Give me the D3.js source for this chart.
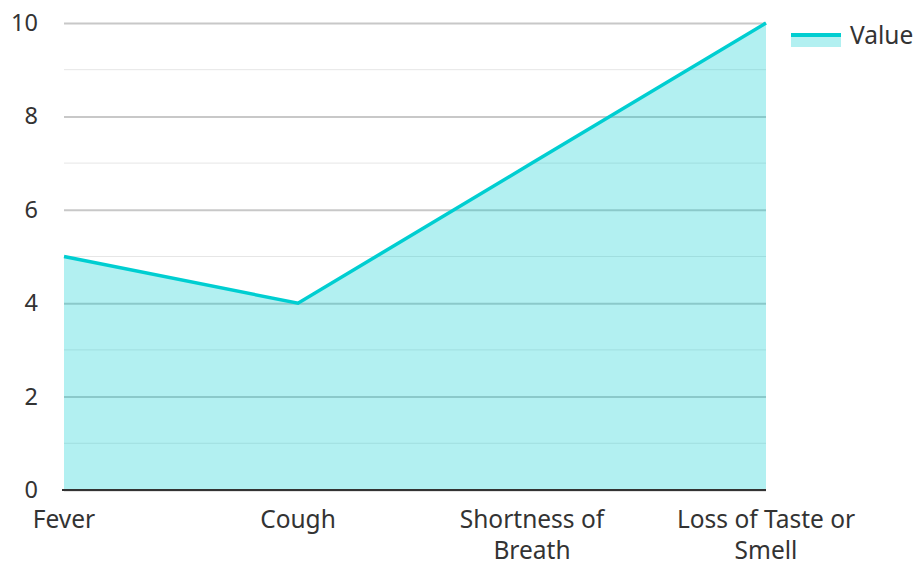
<!DOCTYPE html>
<html>
<head>
<meta charset="utf-8">
<script src="https://cdn.jsdelivr.net/npm/d3@7"></script>
<style>
  body { margin: 0; background: #fff; }
  text { font-family: "Noto Sans", sans-serif; fill: #333; }
</style>
</head>
<body>
<div id="chart-area"></div>
<script>
const categories = ["Fever", "Cough", "Shortness of Breath", "Loss of Taste or Smell"];
const values = [5, 4, 7, 10];
const seriesName = "Value";
const yTicks = [0, 2, 4, 6, 8, 10];
const yMinorTicks = [1, 3, 5, 7, 9];

const width = 916, height = 562;
const margin = { top: 23, right: 150, bottom: 72, left: 64 };
const lineColor = "#00ced1";

const svg = d3.select("#chart-area")
    .append("svg")
    .attr("width", width)
    .attr("height", height);

const x = d3.scalePoint()
    .domain(categories)
    .range([margin.left, width - margin.right]);

const y = d3.scaleLinear()
    .domain([0, 10])
    .range([height - margin.bottom, margin.top]);

// minor grid
svg.append("g")
    .selectAll("line")
    .data(yMinorTicks)
    .enter().append("line")
    .attr("x1", margin.left)
    .attr("x2", width - margin.right)
    .attr("y1", d => y(d))
    .attr("y2", d => y(d))
    .attr("stroke", "#e6e6e6")
    .attr("stroke-width", 1);

// major grid + labels
const yAxis = svg.append("g")
    .attr("transform", "translate(" + margin.left + ",0)")
    .call(d3.axisLeft(y).tickValues(yTicks).tickSize(-(width - margin.right - margin.left)).tickPadding(26));
yAxis.select(".domain").remove();
yAxis.selectAll(".tick line").attr("stroke", "#c8c8c8").attr("stroke-width", 2);
yAxis.selectAll(".tick text")
    .attr("font-size", 23.5)
    .attr("fill", "#444")
    .style("font-family", "'Noto Sans', sans-serif");

// area
const area = d3.area()
    .x((d, i) => x(categories[i]))
    .y0(y(0))
    .y1(d => y(d));

svg.append("path")
    .datum(values)
    .attr("d", area)
    .attr("fill", lineColor)
    .attr("fill-opacity", 0.3);

const line = d3.line()
    .x((d, i) => x(categories[i]))
    .y(d => y(d));

svg.append("path")
    .datum(values)
    .attr("d", line)
    .attr("fill", "none")
    .attr("stroke", lineColor)
    .attr("stroke-width", 3.5);

// x axis line
svg.append("line")
    .attr("x1", margin.left - 2)
    .attr("x2", width - margin.right)
    .attr("y1", y(0))
    .attr("y2", y(0))
    .attr("stroke", "#333")
    .attr("stroke-width", 2);

// x labels (wrapped)
const wrapWidth = 185;
const xLabels = svg.append("g");
categories.forEach(function (c) {
    const t = xLabels.append("text")
        .attr("x", x(c))
        .attr("y", y(0) + 38)
        .attr("text-anchor", "middle")
        .attr("font-size", 24.5)
        .attr("fill", "#333");
    const words = c.split(" ");
    let lineWords = [];
    let tspan = t.append("tspan").attr("x", x(c)).attr("dy", 0);
    words.forEach(function (w) {
        lineWords.push(w);
        tspan.text(lineWords.join(" "));
        if (tspan.node().getComputedTextLength() > wrapWidth && lineWords.length > 1) {
            lineWords.pop();
            tspan.text(lineWords.join(" "));
            lineWords = [w];
            tspan = t.append("tspan").attr("x", x(c)).attr("dy", 31).text(w);
        }
    });
});

// legend
const legend = svg.append("g")
    .attr("transform", "translate(791,35)");
legend.append("rect")
    .attr("x", 0).attr("y", 0)
    .attr("width", 50).attr("height", 12)
    .attr("fill", lineColor)
    .attr("fill-opacity", 0.3);
legend.append("line")
    .attr("x1", 0).attr("x2", 50)
    .attr("y1", 0).attr("y2", 0)
    .attr("stroke", lineColor)
    .attr("stroke-width", 4);
legend.append("text")
    .attr("x", 59)
    .attr("y", 8.5)
    .attr("font-size", 24.5)
    .attr("fill", "#222")
    .text(seriesName);
</script>
</body>
</html>
